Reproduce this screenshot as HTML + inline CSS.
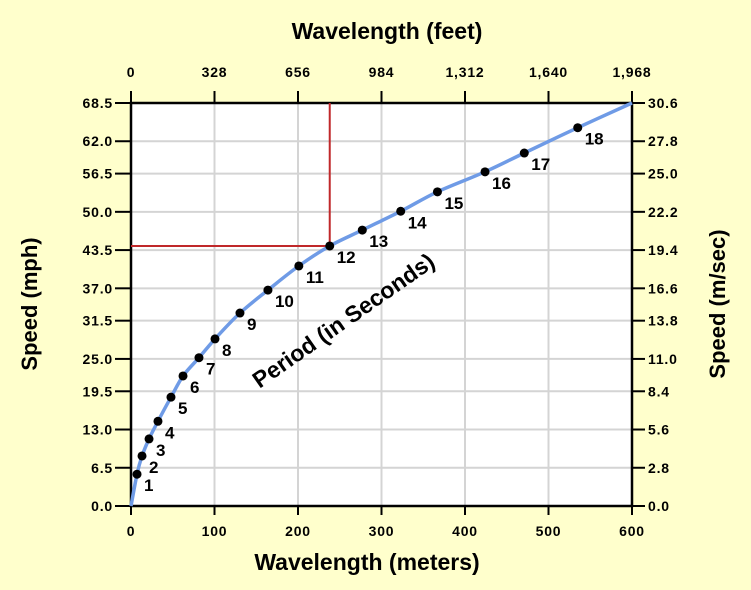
<!DOCTYPE html>
<html><head><meta charset="utf-8"><style>
html,body{margin:0;padding:0;background:#FFFFCC;}
svg{display:block;font-family:"Liberation Sans",Arial,sans-serif;font-weight:bold;}
</style></head><body>
<svg id="chart" width="751" height="590" viewBox="0 0 751 590">
<rect width="751" height="590" fill="#FFFFCC"/>
<rect x="131" y="103" width="501" height="403" fill="#fff"/>
<g id="grid"></g>
<g id="axes"></g>
<g id="marks"></g>
<text x="387" y="39" text-anchor="middle" font-size="23">Wavelength (feet)</text>
<text x="367" y="570" text-anchor="middle" font-size="23">Wavelength (meters)</text>
<text transform="translate(37,304) rotate(-90)" text-anchor="middle" font-size="22">Speed (mph)</text>
<text transform="translate(725,304) rotate(-90)" text-anchor="middle" font-size="22">Speed (m/sec)</text>
<text transform="translate(348,327) rotate(-35)" text-anchor="middle" font-size="23">Period (in Seconds)</text>
</svg>
<script>
const xTicks=[0,100,200,300,400,500,600];
const ftLabels=["0","328","656","984","1,312","1,640","1,968"];
const yTicks=[0,6.5,13,19.5,25,31.5,37,43.5,50,56.5,62,68.5];
const yLabels=["0.0","6.5","13.0","19.5","25.0","31.5","37.0","43.5","50.0","56.5","62.0","68.5"];
const msLabels=["0.0","2.8","5.6","8.4","11.0","13.8","16.6","19.4","22.2","25.0","27.8","30.6"];
const periods=[1,2,3,4,5,6,7,8,9,10,11,12,13,14,15,16,17,18];
const wavelengths=[7.2,13.2,21.6,32.3,47.9,62.3,81.4,100.6,130.5,164,201,238,277,323,367,424,471,535];
const speeds=[5.4,8.5,11.4,14.4,18.5,22.1,25.2,28.4,32.8,36.7,40.8,44.2,46.9,50.1,53.4,56.8,60.0,64.3];
const highlightIndex=11;

const L=131,R=632,T=103,B=506;
const sx=v=>L+(v/600)*(R-L);
const sy=v=>B-(v/68.5)*(B-T);
const NS="http://www.w3.org/2000/svg";
function mk(tag,attrs,parent,txt){const e=document.createElementNS(NS,tag);for(const k in attrs)e.setAttribute(k,attrs[k]);if(txt!==undefined)e.textContent=txt;parent.appendChild(e);return e;}
const grid=document.getElementById('grid'),axes=document.getElementById('axes'),marks=document.getElementById('marks');
const tf={'font-size':14,'letter-spacing':'0.8'};

xTicks.forEach((t,i)=>{
  const x=sx(t);
  if(i>0&&i<xTicks.length-1){const g=mk('line',{x1:x,x2:x,y1:T,y2:B,stroke:'#d4d4d4','stroke-width':2},grid);
  
  }
  const a=mk('line',{x1:x,x2:x,y1:B,y2:B+9,stroke:'#000','stroke-width':2},axes);
  
  
  const b=mk('line',{x1:x,x2:x,y1:T-12,y2:T,stroke:'#000','stroke-width':2},axes);
  
  
  const tl=mk('text',Object.assign({x:x,y:B+30,'text-anchor':'middle'},tf),axes,String(t));
  
  
  const fl=mk('text',Object.assign({x:x,y:T-26,'text-anchor':'middle'},tf),axes,ftLabels[i]);
  
  
});
yTicks.forEach((t,i)=>{
  const y=sy(t);
  if(i>0&&i<yTicks.length-1){const g=mk('line',{x1:L,x2:R,y1:y,y2:y,stroke:'#d4d4d4','stroke-width':2},grid);
  
  }
  const a=mk('line',{x1:L-16,x2:L,y1:y,y2:y,stroke:'#000','stroke-width':2},axes);
  
  
  const b=mk('line',{x1:R,x2:R+13,y1:y,y2:y,stroke:'#000','stroke-width':2},axes);
  
  
  const yl=mk('text',Object.assign({x:L-18,y:y+5,'text-anchor':'end'},tf),axes,yLabels[i]);
  
  
  const rl=mk('text',Object.assign({x:R+16,y:y+5,'text-anchor':'start'},tf),axes,msLabels[i]);
  
  
});
const frame=mk('rect',{x:L,y:T,width:R-L,height:B-T,fill:'none',stroke:'#000','stroke-width':2.5},axes);



const hx=sx(wavelengths[highlightIndex]),hy=sy(speeds[highlightIndex]);
const rv=mk('line',{x1:hx,x2:hx,y1:T,y2:hy,stroke:'#c0282a','stroke-width':2},marks);


const rh=mk('line',{x1:L,x2:hx,y1:hy,y2:hy,stroke:'#c0282a','stroke-width':2},marks);



const px=[0].concat(wavelengths,[600]),py=[0].concat(speeds,[68.5]);
const P=px.map((v,i)=>[sx(v),sy(py[i])]);
let d='M'+P[0][0]+','+P[0][1];
for(let i=0;i<P.length-1;i++){
  const p0=P[Math.max(0,i-1)],p1=P[i],p2=P[i+1],p3=P[Math.min(P.length-1,i+2)];
  const c1=[p1[0]+(p2[0]-p0[0])/6,p1[1]+(p2[1]-p0[1])/6];
  const c2=[p2[0]-(p3[0]-p1[0])/6,p2[1]-(p3[1]-p1[1])/6];
  d+=' C'+c1[0].toFixed(1)+','+c1[1].toFixed(1)+' '+c2[0].toFixed(1)+','+c2[1].toFixed(1)+' '+p2[0].toFixed(1)+','+p2[1].toFixed(1);
}
const curve=mk('path',{d:d,fill:'none',stroke:'#6f9be6','stroke-width':3.5,'stroke-linejoin':'round'},marks);



periods.forEach((p,i)=>{
  const x=sx(wavelengths[i]),y=sy(speeds[i]);
  const c=mk('circle',{cx:x,cy:y,r:4.5,fill:'#000'},marks);
  
  
  const t=mk('text',{x:x+7,y:y+17,'font-size':17},marks,String(p));
  
  
});
</script>
</body></html>
